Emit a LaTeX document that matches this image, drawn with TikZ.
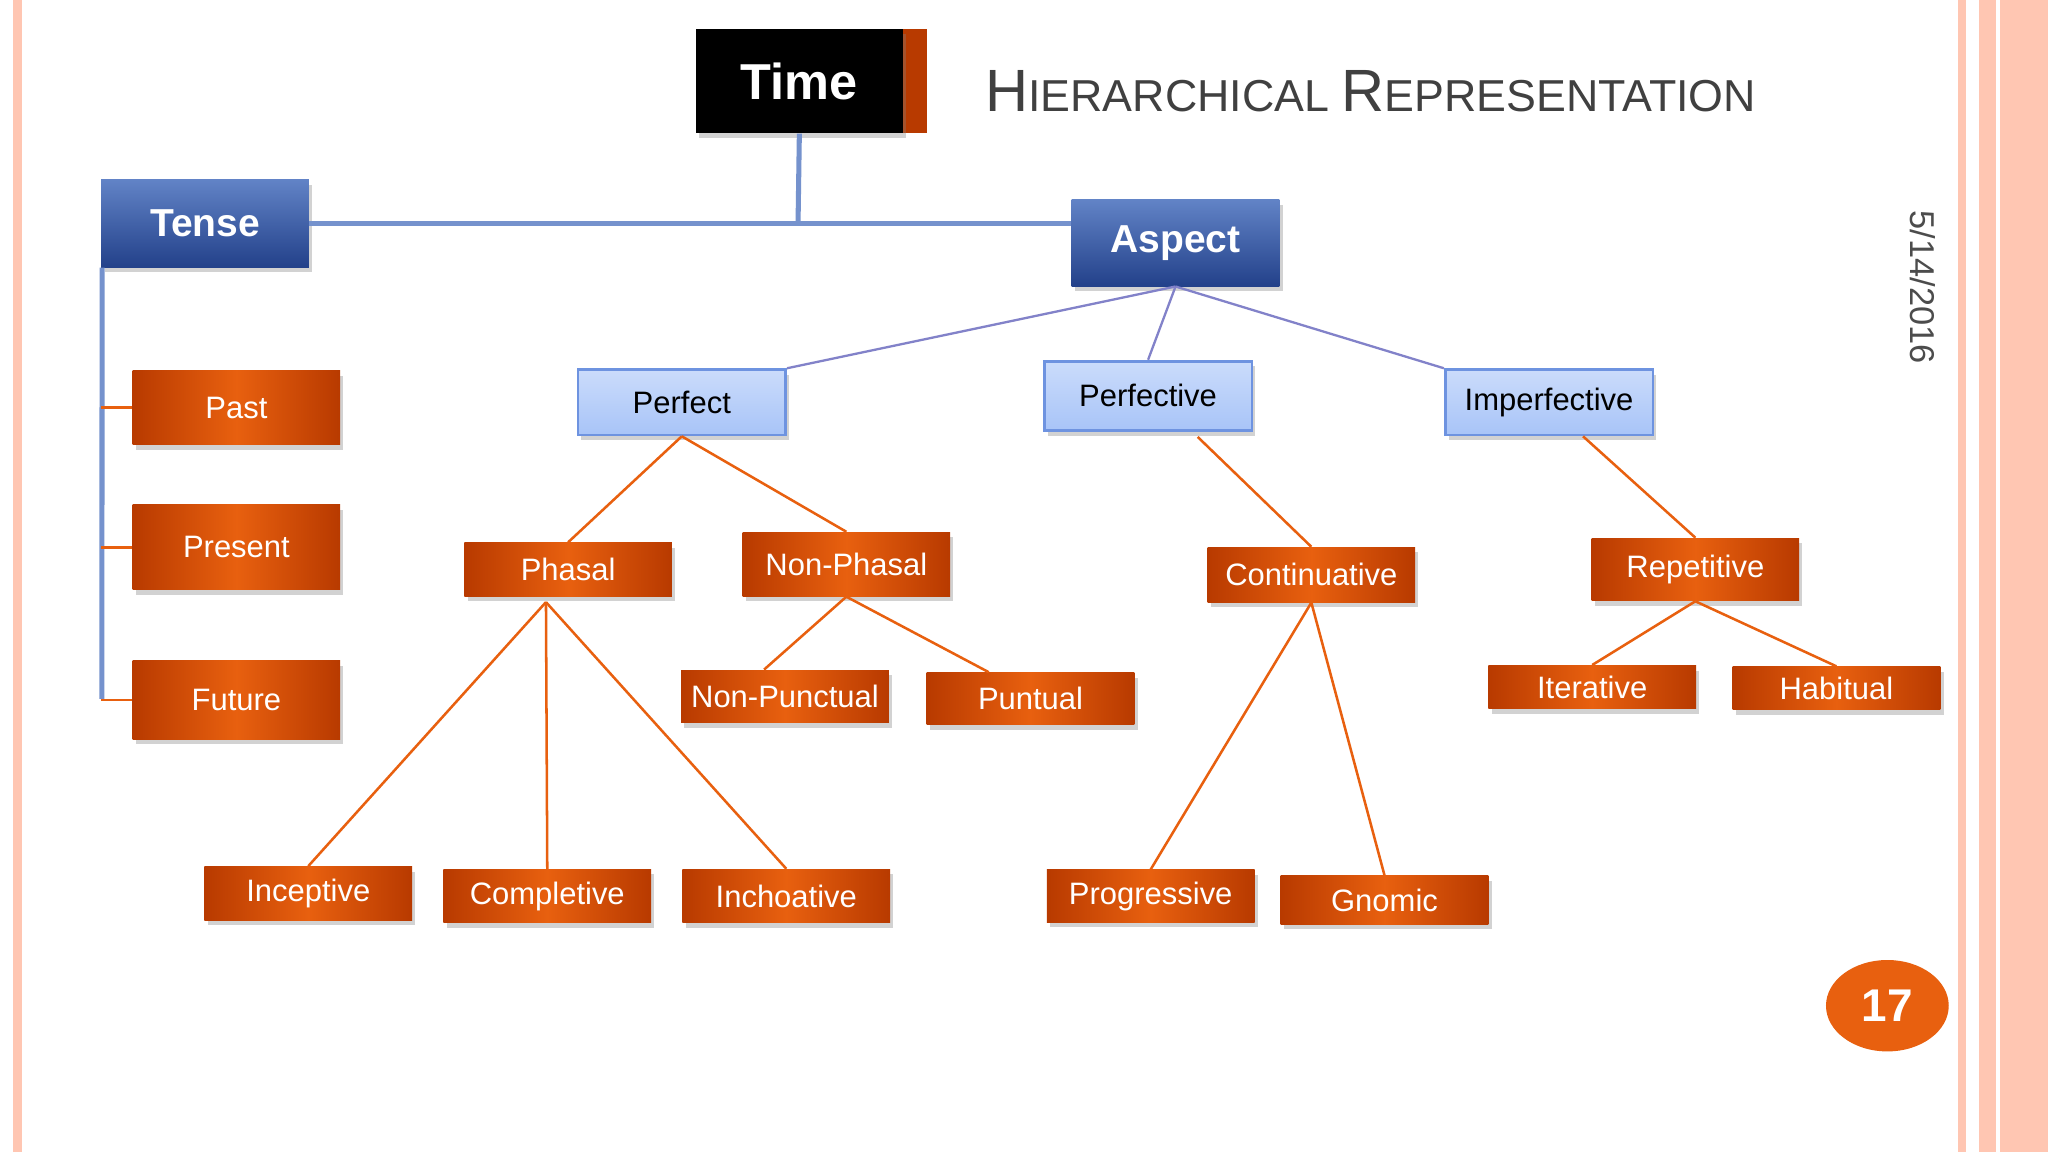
\documentclass[tikz,border=0pt]{standalone}
\usepackage{fontspec}
\setmainfont{Liberation Sans}
\usetikzlibrary{shadows,shapes.geometric}
\definecolor{og}{HTML}{E8600F}
\definecolor{ogd}{HTML}{B83A00}
\definecolor{bl}{HTML}{3A64B8}
\definecolor{bld}{HTML}{23418A}
\definecolor{lb}{HTML}{A8C4F8}
\definecolor{lbd}{HTML}{6E93E0}
\begin{document}
\begin{tikzpicture}[x=0.02cm,y=-0.02cm,
 box/.style={draw=none,minimum width=3.18cm,inner sep=0pt,drop shadow={shadow xshift=0.5mm,shadow yshift=-0.8mm,opacity=0.35}},
 obox/.style={box,left color=ogd,right color=ogd,middle color=og,text=white,font=\fontsize{13.5}{15}\selectfont},
 bbox/.style={box,top color=bl!80!white,bottom color=bld,text=white,font=\fontsize{17}{19}\selectfont\bfseries},
 lbox/.style={box,top color=lb!60!white,bottom color=lb,draw=lbd,line width=1.2pt,text=black,font=\fontsize{13.5}{15}\selectfont},
 bl1/.style={draw=bl!70!white,line width=2.2pt},
 gl/.style={draw=gray!60!blue!70,line width=1pt},
 ol/.style={draw=og,line width=1.1pt}]
\useasboundingbox (0,0) rectangle (1568,882);
\fill[white] (0,0) rectangle (1568,882);
\fill[red!50!orange!30] (10,0) rectangle (17,882);
\fill[red!50!orange!30] (1499,0) rectangle (1505,882);
\fill[red!50!orange!30] (1515,0) rectangle (1568,882);
\fill[white] (1528,0) rectangle (1531,882);
% Time
\fill[ogd] (690,22) rectangle (710,102);
\node[box,fill=black,minimum width=3.18cm,minimum height=1.6cm,text=white,font=\fontsize{22}{24}\selectfont\bfseries] (time) at (612,62) {Time};
\node[anchor=west,text=gray!50!black,inner sep=0pt] (title) at (754,70) {\fontsize{26}{30}\selectfont H\fontsize{19.5}{22}\selectfont IERARCHICAL \fontsize{26}{30}\selectfont R\fontsize{19.5}{22}\selectfont EPRESENTATION};
\node[bbox,minimum height=1.34cm] (tense) at (157,171) {Tense};
\node[bbox,minimum height=1.32cm] (aspect) at (900,186) {Aspect};
\coordinate (tj) at (611,171);
\draw[bl1] (time.south) -- (tj);
\draw[bl1] (tense.east) -- (tense.east -| aspect.west);
\coordinate (tb) at (78,535);
\draw[bl1] (tense.south west) ++(1,0) -- (tb);
\node[obox,minimum height=1.14cm] (past) at (181,312) {Past};
\node[obox,minimum height=1.3cm] (present) at (181,419) {Present};
\node[obox,minimum height=1.2cm] (future) at (181,536) {Future};
\foreach \n in {past,present,future}{\draw[ol] (\n.west) -- ++(-24,0);}
\node[lbox,minimum height=1cm] (perfect) at (522,308) {Perfect};
\node[lbox,minimum height=1.06cm] (perfective) at (879,303) {Perfective};
\node[lbox,minimum height=1cm] (imperfective) at (1186,308) {Imperfective};
\draw[gl] (aspect.south) -- (perfect.north east);
\draw[gl] (aspect.south) -- (perfective.north);
\draw[gl] (aspect.south) -- (imperfective.north west);
\node[obox,minimum height=0.82cm] (phasal) at (435,436) {Phasal};
\node[obox,minimum height=0.98cm] (nonphasal) at (648,432) {Non-Phasal};
\node[obox,minimum height=0.84cm] (cont) at (1004,440) {Continuative};
\node[obox,minimum height=0.96cm] (rep) at (1298,436) {Repetitive};
\draw[ol] (perfect.south) -- (phasal.north);
\draw[ol] (perfect.south) -- (nonphasal.north);
\draw[ol] (perfective.south) ++(38,4) -- (cont.north);
\draw[ol] (imperfective.south) ++(26,0) -- (rep.north);
\node[obox,minimum height=0.8cm] (nonp) at (601,533) {Non-Punctual};
\node[obox,minimum height=0.8cm] (punt) at (789,535) {Puntual};
\node[obox,minimum height=0.66cm] (iter) at (1219,526) {Iterative};
\node[obox,minimum height=0.66cm] (hab) at (1406,527) {Habitual};
\draw[ol] (nonphasal.south) -- ([xshift=-0.32cm]nonp.north);
\draw[ol] (nonphasal.south) -- ([xshift=-0.64cm]punt.north);
\draw[ol] (rep.south) -- (iter.north);
\draw[ol] (rep.south) -- (hab.north);
\node[obox,minimum height=0.82cm] (incep) at (236,684) {Inceptive};
\node[obox,minimum height=0.82cm] (compl) at (419,686) {Completive};
\node[obox,minimum height=0.82cm] (inch) at (602,686) {Inchoative};
\node[obox,minimum height=0.8cm] (prog) at (881,686) {Progressive};
\node[obox,minimum height=0.74cm] (gnom) at (1060,689) {Gnomic};
\coordinate (ph) at (418,461);
\draw[ol] (ph) -- (incep.north);
\draw[ol] (ph) -- (compl.north);
\draw[ol] (ph) -- (inch.north);
\draw[ol] (cont.south) -- (prog.north);
\draw[ol] (cont.south) -- (gnom.north);
\node[ellipse,fill=og,minimum width=1.88cm,minimum height=1.4cm,inner sep=0pt,text=white,font=\fontsize{20}{22}\selectfont\bfseries] (num) at (1445,770) {17};
\node[rotate=-90,text=gray!60!black,font=\fontsize{15}{17}\selectfont] (date) at (1472,220) {5/14/2016};
\end{tikzpicture}
\end{document}
